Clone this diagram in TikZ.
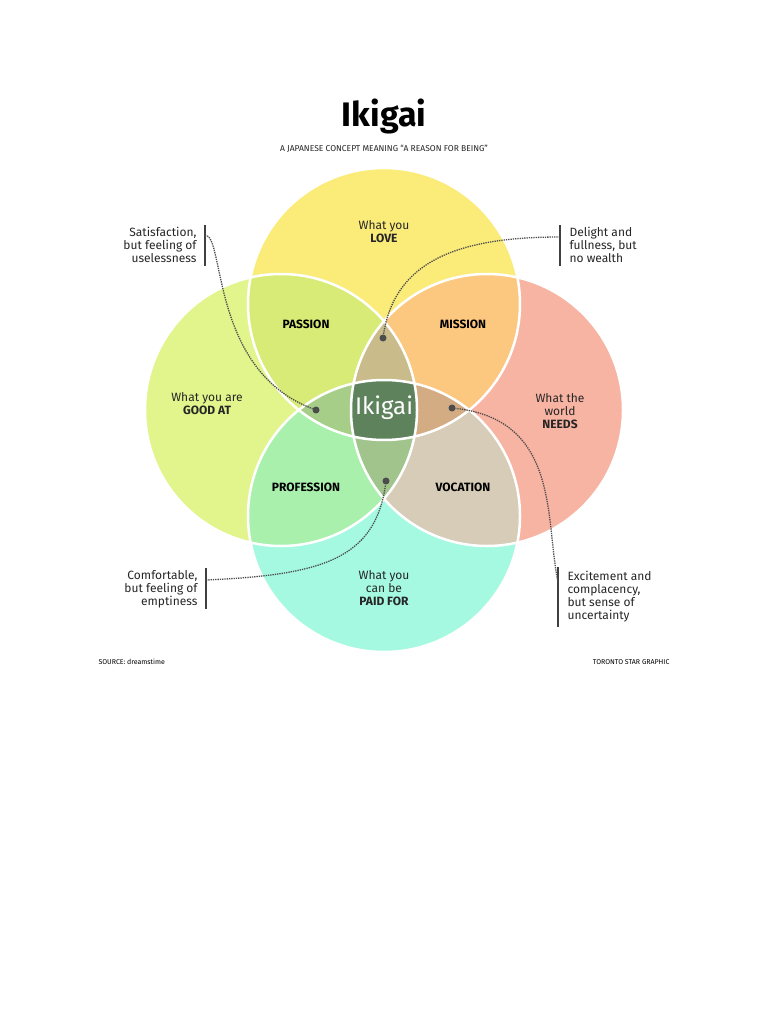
\documentclass[tikz,border=0pt]{standalone}
\usepackage{fontspec}
\setmainfont{Fira Sans}
\begin{document}
\begin{tikzpicture}[x=1pt,y=-1pt,
 lab/.style={align=center,font=\fontsize{12}{13}\selectfont,text=black!85},
 reg/.style={font=\bfseries\fontsize{12}{13}\selectfont},
 ann/.style={align=left,font=\fontsize{12}{13}\selectfont,text=black!85},
 annr/.style={align=right,font=\fontsize{12}{13}\selectfont,text=black!85},
 bar/.style={line width=1.4pt,black!75},
 lead/.style={densely dotted,line width=1.3pt,black!70},
 dot/.style={circle,fill=black!70,inner sep=0pt,minimum size=7pt}]
\useasboundingbox (0,0) rectangle (768,1024);
\fill[white] (0,0) rectangle (768,1024);
\def\T{(384,304) circle (136)}
\def\L{(281,410) circle (136)}
\def\R{(487,410) circle (136)}
\def\B{(384,516) circle (136)}
\fill[yellow!60!white,fill={rgb,255:red,251;green,236;blue,122}] \T;
\fill[fill={rgb,255:red,226;green,245;blue,140}] \L;
\fill[fill={rgb,255:red,248;green,180;blue,163}] \R;
\fill[fill={rgb,255:red,164;green,249;blue,224}] \B;
% pairs
\begin{scope}\clip \T; \fill[fill={rgb,255:red,216;green,235;blue,118}] \L; \fill[fill={rgb,255:red,252;green,199;blue,127}] \R;\end{scope}
\begin{scope}\clip \B; \fill[fill={rgb,255:red,168;green,240;blue,172}] \L; \fill[fill={rgb,255:red,214;green,204;blue,183}] \R;\end{scope}
% triples
\begin{scope}\clip \T; \clip \L; \fill[fill={rgb,255:red,201;green,187;blue,138}] \R;\end{scope}
\begin{scope}\clip \T; \clip \L; \fill[fill={rgb,255:red,166;green,206;blue,136}] \B;\end{scope}
\begin{scope}\clip \T; \clip \R; \fill[fill={rgb,255:red,212;green,172;blue,132}] \B;\end{scope}
\begin{scope}\clip \L; \clip \R; \fill[fill={rgb,255:red,160;green,196;blue,140}] \B;\end{scope}
\begin{scope}\clip \T; \clip \L; \clip \R; \fill[fill={rgb,255:red,94;green,130;blue,92}] \B;\end{scope}
\draw[white,line width=2.5pt] \T \L \R \B;
% titles
\node[font=\bfseries\fontsize{34}{36}\selectfont] (title) at (384,116) {Ikigai};
\node[font=\fontsize{8.5}{10}\selectfont,text=black!85] (sub) at (384,149) {A JAPANESE CONCEPT MEANING “A REASON FOR BEING”};
% labels
\node[lab] (love) at (384,232) {What you\\\textbf{LOVE}};
\node[lab] (good) at (207,404) {What you are\\\textbf{GOOD AT}};
\node[lab] (needs) at (560,411) {What the\\world\\\textbf{NEEDS}};
\node[lab] (paid) at (384,588) {What you\\can be\\\textbf{PAID FOR}};
\node[reg] (passion) at (306,324) {PASSION};
\node[reg] (mission) at (463,324) {MISSION};
\node[reg] (prof) at (306,487) {PROFESSION};
\node[reg] (voc) at (463,487) {VOCATION};
\node[font=\fontsize{24}{26}\selectfont,text=white] (ik) at (384,408) {Ikigai};
% annotations
\node[annr,anchor=east] (a1) at (200,245) {Satisfaction,\\but feeling of\\uselessness};
\node[ann,anchor=west] (a2) at (566,245) {Delight and\\fullness, but\\no wealth};
\node[annr,anchor=east] (a3) at (201,589) {Comfortable,\\but feeling of\\emptiness};
\node[ann,anchor=west] (a4) at (564,597) {Excitement and\\complacency,\\but sense of\\uncertainty};
\coordinate (b1t) at (205,225); \coordinate (b1b) at (205,266);
\coordinate (b2t) at (560,225); \coordinate (b2b) at (560,266);
\coordinate (b3t) at (206,568); \coordinate (b3b) at (206,609);
\coordinate (b4t) at (558,567); \coordinate (b4b) at (558,627);
\draw[bar] (b1t)--(b1b); \draw[bar] (b2t)--(b2b); \draw[bar] (b3t)--(b3b); \draw[bar] (b4t)--(b4b);
\node[dot] (d1) at (316,410) {};
\node[dot] (d2) at (383,338) {};
\node[dot] (d3) at (386,481) {};
\node[dot] (d4) at (452,408) {};
\coordinate (s1) at (205,235); \coordinate (s2) at (560,237);
\coordinate (s3) at (206,580); \coordinate (s4) at (558,582);
\draw[lead] (s1) .. controls (225,235) and (210,370) .. (d1);
\draw[lead] (s2) .. controls (460,237) and (395,260) .. (d2);
\draw[lead] (s3) .. controls (320,575) and (375,560) .. (d3);
\draw[lead] (s4) .. controls (545,520) and (560,420) .. (d4);
\node[anchor=west,font=\fontsize{7}{8}\selectfont] (src) at (95,662) {SOURCE: dreamstime};
\node[anchor=east,font=\fontsize{7}{8}\selectfont] (ts) at (673,662) {TORONTO STAR GRAPHIC};
\end{tikzpicture}
\end{document}
